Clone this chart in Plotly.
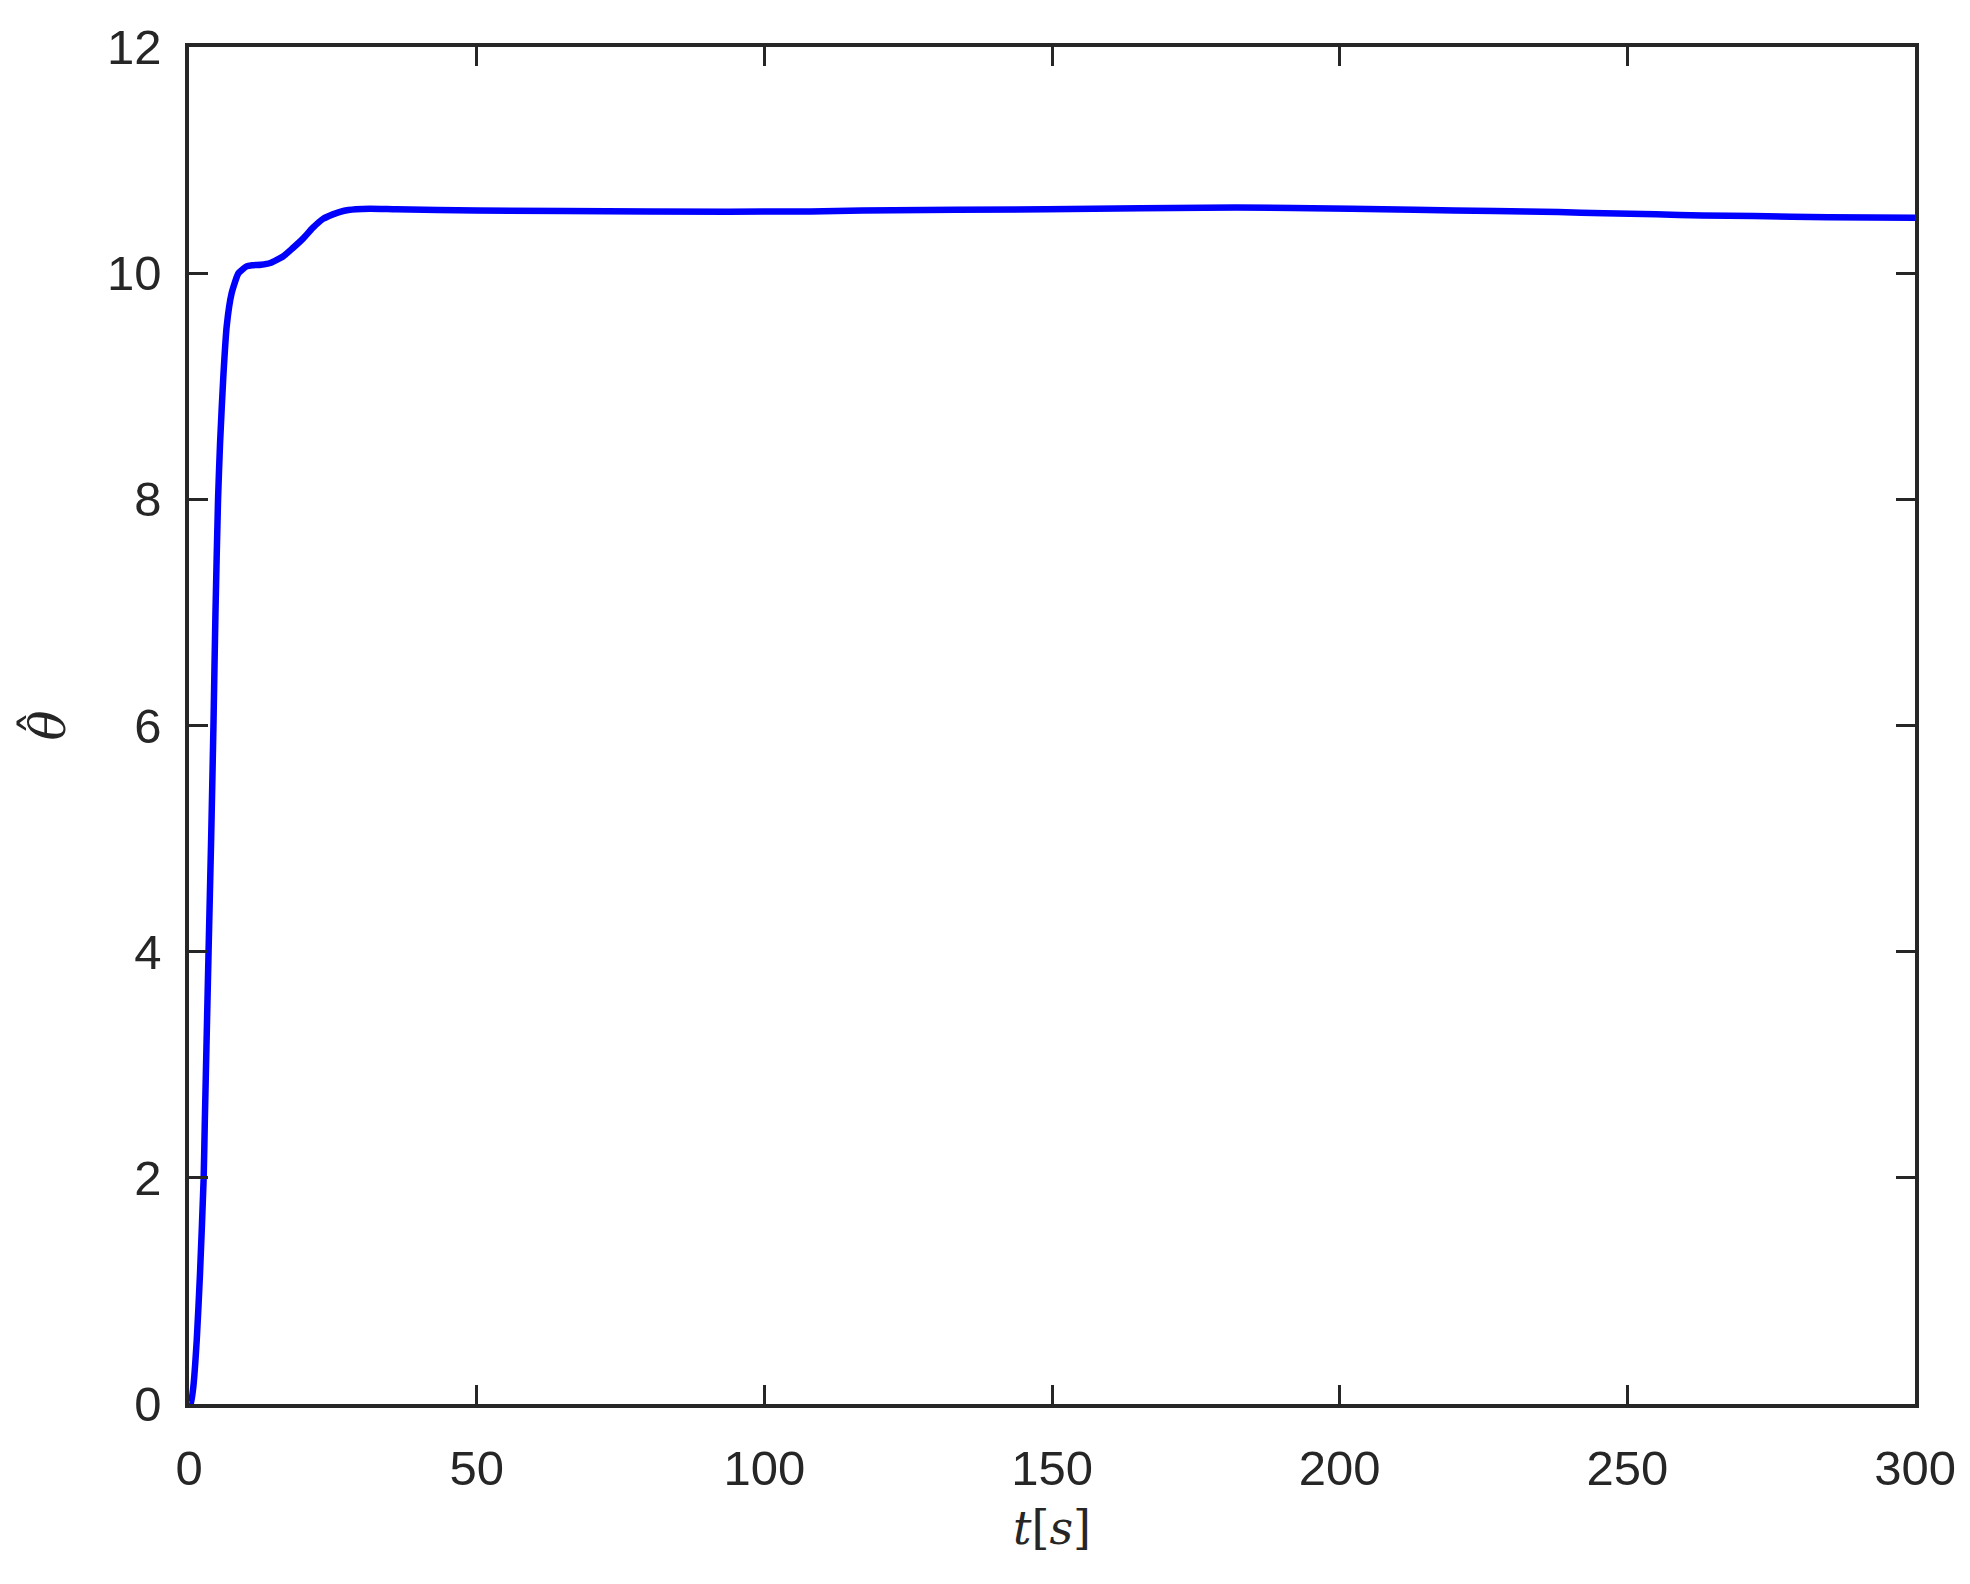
import plotly.graph_objects as go

# time [s] and estimate theta_hat
t = [0, 0.3, 0.75, 1.34, 1.91, 2.55, 2.75, 3.4, 3.85, 4.25, 4.6, 5.05, 5.4, 5.97,
     6.55, 7.4, 8.6, 10.0, 11.0, 12.5, 14.1, 16.4, 18.0, 19.9, 21.5, 23.3, 25.0,
     26.8, 29.0, 31.5, 36.0, 50.0, 80.0, 108.0, 117.0, 149.0, 182.0, 202.0, 213.0,
     227.0, 238.0, 246.0, 255.0, 263.0, 272.0, 285.0, 300.0]
theta_hat = [0.0, 0.0, 0.15, 0.56, 1.15, 2.0, 2.5, 4.0, 5.0, 6.0, 7.0, 8.0, 8.5, 9.09,
             9.53, 9.82, 10.0, 10.06, 10.07, 10.075, 10.09, 10.15, 10.22, 10.31, 10.40,
             10.48, 10.52, 10.55, 10.565, 10.57, 10.565, 10.555, 10.545, 10.545, 10.555,
             10.565, 10.58, 10.57, 10.56, 10.55, 10.54, 10.53, 10.52, 10.51, 10.505,
             10.495, 10.49]

x_ticks = [0, 50, 100, 150, 200, 250, 300]
y_ticks = [0, 2, 4, 6, 8, 10, 12]

ink = "#262626"

fig = go.Figure()
fig.add_trace(go.Scatter(x=t, y=theta_hat, mode="lines",
                         line=dict(color="#0000ff", width=6.5, shape="spline", smoothing=0.5),
                         showlegend=False))

axis_common = dict(showline=True, linecolor=ink, linewidth=3.5, mirror="ticks",
                   ticks="inside", ticklen=19, tickwidth=3, tickcolor=ink,
                   showgrid=False, zeroline=False,
                   tickfont=dict(family="Liberation Sans, Arial", size=49, color=ink))

fig.update_xaxes(range=[0, 300], tickvals=x_ticks, ticklabelstandoff=18,
                 title=dict(text="<i>t</i>[<i>s</i>]", standoff=19,
                            font=dict(family="DejaVu Serif, serif", size=46, color=ink)),
                 **axis_common)
fig.update_yaxes(range=[0, 12], tickvals=y_ticks, ticklabelstandoff=14,
                 title=dict(text="<i>θ</i>", standoff=26,
                            font=dict(family="DejaVu Serif, serif", size=50, color=ink)),
                 **axis_common)

# the hat over theta (rotated with the axis title)
fig.add_annotation(text="ˆ", textangle=-90, xref="paper", yref="paper", x=0, y=0.5,
                   xanchor="center", yanchor="middle", xshift=-150, yshift=2,
                   showarrow=False, font=dict(family="DejaVu Serif, serif", size=50, color=ink))

# page body adds an 8 px offset, so margins are shifted to keep the axes in place
fig.update_layout(width=1970, height=1584, plot_bgcolor="white", paper_bgcolor="white",
                  margin=dict(l=181, r=63, t=34, b=188))

fig.write_html("out.html")
